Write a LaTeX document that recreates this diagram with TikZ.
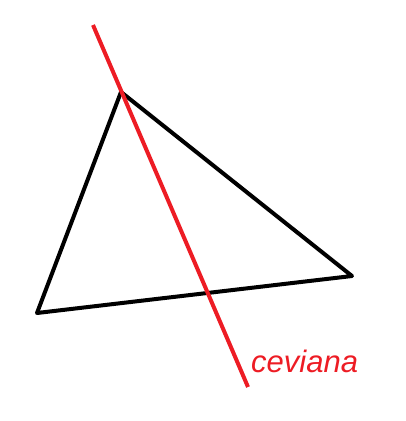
\documentclass[tikz,border=0pt]{standalone}
\usepackage{fontspec}
\setmainfont{Liberation Sans}
\usepackage{xcolor}
\usepackage{tikz}
\definecolor{paintred}{RGB}{237,28,36}

\begin{document}
\begin{tikzpicture}[
        x=1pt, y=-1pt,
        lado/.style={draw=black, line width=4pt, line join=round},
        cevian/.style={draw=paintred, line width=4pt},
        etiqueta/.style={text=paintred, font=\fontsize{31}{36}\selectfont\itshape, inner sep=0pt, anchor=base west}
    ]
        \useasboundingbox (0,0) rectangle (406,421);

        % vertices del triangulo
        \coordinate (A) at (121,92);
        \coordinate (B) at (352,276);
        \coordinate (C) at (37,313);

        % extremos de la ceviana
        \coordinate (P) at (93,25);
        \coordinate (Q) at (248,387);

        % triangulo
        \draw[lado] (A) -- (B) -- (C) -- cycle;

        % ceviana
        \draw[cevian] (P) -- (Q);

        % etiqueta
        \node[etiqueta] (lab) at (251,372) {ceviana};
    \end{tikzpicture}
\end{document}
